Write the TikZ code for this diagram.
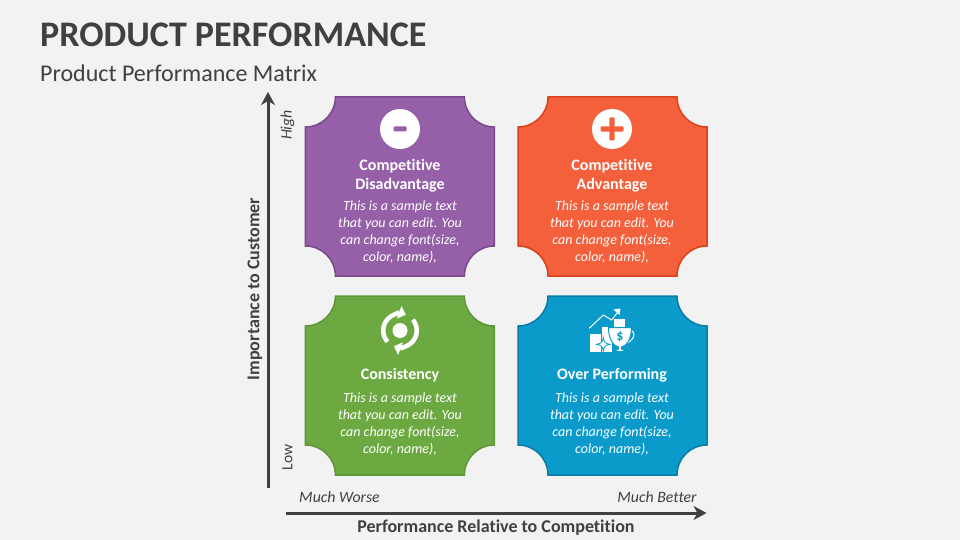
\documentclass[tikz,border=0pt]{standalone}
\usepackage{fontspec}
\setmainfont[Ligatures=CommonOff]{Carlito}
\usetikzlibrary{arrows.meta}
\definecolor{pagegray}{HTML}{F2F2F2}
\definecolor{axisgray}{HTML}{404040}
\definecolor{purplefill}{HTML}{9660A8}
\definecolor{purpleedge}{HTML}{78488A}
\definecolor{orangefill}{HTML}{F4603C}
\definecolor{orangeedge}{HTML}{D9401C}
\definecolor{greenfill}{HTML}{6CA941}
\definecolor{greenedge}{HTML}{5F9439}
\definecolor{bluefill}{HTML}{0A9BCB}
\definecolor{blueedge}{HTML}{0A7BA2}
\newcommand{\cardshape}{(30,0)--(159,0) .. controls (159,16.6) and (172.4,30) .. (189,30)
    --(189,149) .. controls (172.4,149) and (159,162.4) .. (159,179)
    --(30,179) .. controls (30,162.4) and (16.6,149) .. (0,149)
    --(0,30) .. controls (16.6,30) and (30,16.6) .. (30,0)--cycle}
\tikzset{
    cardline/.style={line width=1.5pt,fill=#1fill,draw=#1edge},
    cardhead/.style={text=white,font=\fontsize{16}{19}\selectfont\bfseries,align=center,inner sep=0pt},
    cardbody/.style={text=white,font=\fontsize{14}{17}\selectfont\itshape,align=center,inner sep=0pt},
    axisline/.style={line width=3pt,draw=axisgray,-{Stealth[length=13pt,width=14pt,inset=4pt]}},
    axistitle/.style={text=axisgray,font=\fontsize{18}{20}\selectfont\bfseries,inner sep=0pt},
    axisend/.style={text=axisgray,font=\fontsize{15.8}{18}\selectfont\itshape,inner sep=0pt},
    cyclearc/.style={white,line width=4.5pt,-{Triangle[length=7pt,width=13pt]}},
}
\begin{document}
\begin{tikzpicture}
    [x=1pt,y=-1pt]
    \useasboundingbox[fill=pagegray] (0,0) rectangle (960,540);
    %title
    \node (pagetitle) [anchor=west,inner sep=0pt,text=axisgray,font=\fontsize{36}{40}\selectfont\bfseries] at (40,34.5) {PRODUCT PERFORMANCE};
    \node (pagesubtitle) [anchor=west,inner sep=0pt,text=axisgray,font=\fontsize{24}{27}\selectfont] at (40,73.5) {Product Performance Matrix};
    %axes
    \coordinate (vstart) at (268,488);
    \coordinate (vend) at (268,92);
    \coordinate (hstart) at (286,513);
    \coordinate (hend) at (706.5,513);
    \draw[axisline] (vstart)--(vend);
    \draw[axisline] (hstart)--(hend);
    %label vertical axis
    \node (vtitle) [axistitle,rotate=90] at (255,289) {Importance to Customer};
    \node (vhigh) [axisend,rotate=90] at (287.5,125) {High};
    \node (vlow) [axisend,rotate=90,font=\fontsize{15.5}{18}\selectfont] at (287.5,457.5) {Low};
    %label horizontal axis
    \node (htitle) [axistitle] at (496,527.5) {Performance Relative to Competition};
    \node (hworse) [axisend] at (339.5,497) {Much Worse};
    \node (hbetter) [axisend] at (657,497) {Much Better};
    %cards
    \draw[cardline=purple,shift={(305.4,97)}] \cardshape;
    \draw[cardline=orange,shift={(518,97)}] \cardshape;
    \draw[cardline=green,shift={(305.4,296)}] \cardshape;
    \draw[cardline=blue,shift={(518,296)}] \cardshape;
    %minus icon
    \fill[white] (400,129) circle[radius=20];
    \fill[purplefill,rounded corners=1pt] (393.5,126.5) rectangle (406.5,131.5);
    %plus icon
    \fill[white] (612,129) circle[radius=20];
    \fill[orangefill,rounded corners=1pt] (609.3,117.5) rectangle (614.7,140.5);
    \fill[orangefill,rounded corners=1pt] (600.5,126.3) rectangle (623.5,131.7);
    %cycle icon
    \begin{scope}[shift={(400,330.5)},y=1pt]
        \fill[white] (0,0) circle[radius=7.5];
        \draw[cyclearc] (222:16.8) arc (222:70:16.8);
        \draw[cyclearc] (40:16.8) arc (40:-111:16.8);
    \end{scope}
    %trophy icon
    \draw[white,line width=1pt] (589.3,328.3)--(603.3,315)--(611.7,320)--(619,310.5);
    \fill[white] (620.5,308.5)--(613.5,309.5)--(619.5,315)--cycle;
    \fill[white] (590,334.3) rectangle (600.7,351.7);
    \fill[white] (602.3,326.7) rectangle (612,351.7);
    \fill[white] (614.3,319) rectangle (625,330);
    \draw[white,line width=1pt,fill=none] (629,331) .. controls (636,329) and (636,339) .. (627,343);
    \draw[white,line width=1pt,fill=none] (611,331) .. controls (604,329) and (604,339) .. (613,343);
    \fill[white,draw=bluefill,line width=1pt] (608.5,327.5)--(631.5,327.5) .. controls (631.5,340) and (626,346) .. (621.5,347)
        --(621.5,349)--(626,351.5)--(614,351.5)--(618.5,349)--(618.5,347) .. controls (614,346) and (608.5,340) .. (608.5,327.5)--cycle;
    \node (dollarsign) [inner sep=0pt,text=bluefill,font=\fontsize{14}{14}\selectfont\bfseries] at (620,336.5) {\$};
    \fill[white,draw=bluefill,line width=0.8pt] (603.3,337.5) .. controls (604,342) and (605,343.5) .. (610,344.3)
        .. controls (605,345) and (604,347) .. (603.3,351) .. controls (602.6,347) and (601.6,345) .. (596.6,344.3)
        .. controls (601.6,343.5) and (602.6,342) .. (603.3,337.5)--cycle;
    %purple card text
    \node (purplehead) [cardhead] at (400,176) {Competitive\\Disadvantage};
    \node (purplebody) [cardbody] at (400,232.5) {This is a sample text\\that you can edit. You\\can change font(size,\\color, name),};
    %orange card text
    \node (orangehead) [cardhead] at (612,176) {Competitive\\Advantage};
    \node (orangebody) [cardbody] at (612,232.5) {This is a sample text\\that you can edit. You\\can change font(size,\\color, name),};
    %green card text
    \node (greenhead) [cardhead] at (400,375.5) {Consistency};
    \node (greenbody) [cardbody] at (400,424.5) {This is a sample text\\that you can edit. You\\can change font(size,\\color, name),};
    %blue card text
    \node (bluehead) [cardhead] at (612,375.5) {Over Performing};
    \node (bluebody) [cardbody] at (612,424.5) {This is a sample text\\that you can edit. You\\can change font(size,\\color, name),};
\end{tikzpicture}
\end{document}
